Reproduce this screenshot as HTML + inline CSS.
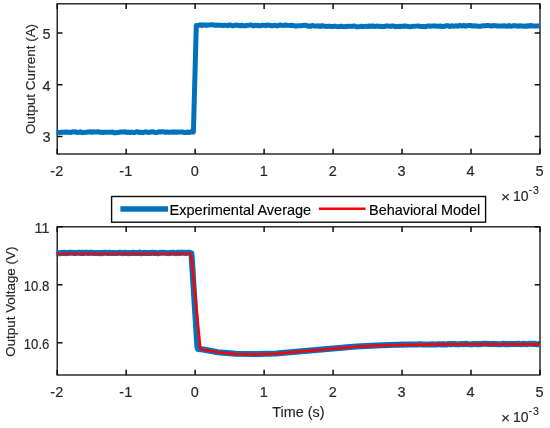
<!DOCTYPE html>
<html><head><meta charset="utf-8"><style>
html,body{margin:0;padding:0;background:#fff;width:550px;height:428px;overflow:hidden}
svg{display:block;filter:blur(0.35px)}
</style></head><body>
<svg width="550" height="428" viewBox="0 0 550 428">
<rect width="550" height="428" fill="#fff"/>
<rect x="57.2" y="3.8" width="482.8" height="150.2" fill="none" stroke="#0d0d0d" stroke-width="1.3"/>
<line x1="57.20" y1="3.8" x2="57.20" y2="9.1" stroke="#0d0d0d" stroke-width="1.5"/>
<line x1="57.20" y1="154.0" x2="57.20" y2="148.7" stroke="#0d0d0d" stroke-width="1.5"/>
<line x1="126.17" y1="3.8" x2="126.17" y2="9.1" stroke="#0d0d0d" stroke-width="1.5"/>
<line x1="126.17" y1="154.0" x2="126.17" y2="148.7" stroke="#0d0d0d" stroke-width="1.5"/>
<line x1="195.14" y1="3.8" x2="195.14" y2="9.1" stroke="#0d0d0d" stroke-width="1.5"/>
<line x1="195.14" y1="154.0" x2="195.14" y2="148.7" stroke="#0d0d0d" stroke-width="1.5"/>
<line x1="264.11" y1="3.8" x2="264.11" y2="9.1" stroke="#0d0d0d" stroke-width="1.5"/>
<line x1="264.11" y1="154.0" x2="264.11" y2="148.7" stroke="#0d0d0d" stroke-width="1.5"/>
<line x1="333.09" y1="3.8" x2="333.09" y2="9.1" stroke="#0d0d0d" stroke-width="1.5"/>
<line x1="333.09" y1="154.0" x2="333.09" y2="148.7" stroke="#0d0d0d" stroke-width="1.5"/>
<line x1="402.06" y1="3.8" x2="402.06" y2="9.1" stroke="#0d0d0d" stroke-width="1.5"/>
<line x1="402.06" y1="154.0" x2="402.06" y2="148.7" stroke="#0d0d0d" stroke-width="1.5"/>
<line x1="471.03" y1="3.8" x2="471.03" y2="9.1" stroke="#0d0d0d" stroke-width="1.5"/>
<line x1="471.03" y1="154.0" x2="471.03" y2="148.7" stroke="#0d0d0d" stroke-width="1.5"/>
<line x1="540.00" y1="3.8" x2="540.00" y2="9.1" stroke="#0d0d0d" stroke-width="1.5"/>
<line x1="540.00" y1="154.0" x2="540.00" y2="148.7" stroke="#0d0d0d" stroke-width="1.5"/>
<rect x="57.2" y="226.8" width="482.8" height="148.2" fill="none" stroke="#0d0d0d" stroke-width="1.3"/>
<line x1="57.20" y1="226.8" x2="57.20" y2="232.10000000000002" stroke="#0d0d0d" stroke-width="1.5"/>
<line x1="57.20" y1="375.0" x2="57.20" y2="369.7" stroke="#0d0d0d" stroke-width="1.5"/>
<line x1="126.17" y1="226.8" x2="126.17" y2="232.10000000000002" stroke="#0d0d0d" stroke-width="1.5"/>
<line x1="126.17" y1="375.0" x2="126.17" y2="369.7" stroke="#0d0d0d" stroke-width="1.5"/>
<line x1="195.14" y1="226.8" x2="195.14" y2="232.10000000000002" stroke="#0d0d0d" stroke-width="1.5"/>
<line x1="195.14" y1="375.0" x2="195.14" y2="369.7" stroke="#0d0d0d" stroke-width="1.5"/>
<line x1="264.11" y1="226.8" x2="264.11" y2="232.10000000000002" stroke="#0d0d0d" stroke-width="1.5"/>
<line x1="264.11" y1="375.0" x2="264.11" y2="369.7" stroke="#0d0d0d" stroke-width="1.5"/>
<line x1="333.09" y1="226.8" x2="333.09" y2="232.10000000000002" stroke="#0d0d0d" stroke-width="1.5"/>
<line x1="333.09" y1="375.0" x2="333.09" y2="369.7" stroke="#0d0d0d" stroke-width="1.5"/>
<line x1="402.06" y1="226.8" x2="402.06" y2="232.10000000000002" stroke="#0d0d0d" stroke-width="1.5"/>
<line x1="402.06" y1="375.0" x2="402.06" y2="369.7" stroke="#0d0d0d" stroke-width="1.5"/>
<line x1="471.03" y1="226.8" x2="471.03" y2="232.10000000000002" stroke="#0d0d0d" stroke-width="1.5"/>
<line x1="471.03" y1="375.0" x2="471.03" y2="369.7" stroke="#0d0d0d" stroke-width="1.5"/>
<line x1="540.00" y1="226.8" x2="540.00" y2="232.10000000000002" stroke="#0d0d0d" stroke-width="1.5"/>
<line x1="540.00" y1="375.0" x2="540.00" y2="369.7" stroke="#0d0d0d" stroke-width="1.5"/>
<line x1="57.2" y1="33.00" x2="62.5" y2="33.00" stroke="#0d0d0d" stroke-width="1.5"/>
<line x1="540.0" y1="33.00" x2="534.7" y2="33.00" stroke="#0d0d0d" stroke-width="1.5"/>
<line x1="57.2" y1="84.75" x2="62.5" y2="84.75" stroke="#0d0d0d" stroke-width="1.5"/>
<line x1="540.0" y1="84.75" x2="534.7" y2="84.75" stroke="#0d0d0d" stroke-width="1.5"/>
<line x1="57.2" y1="136.50" x2="62.5" y2="136.50" stroke="#0d0d0d" stroke-width="1.5"/>
<line x1="540.0" y1="136.50" x2="534.7" y2="136.50" stroke="#0d0d0d" stroke-width="1.5"/>
<line x1="57.2" y1="226.80" x2="62.5" y2="226.80" stroke="#0d0d0d" stroke-width="1.5"/>
<line x1="540.0" y1="226.80" x2="534.7" y2="226.80" stroke="#0d0d0d" stroke-width="1.5"/>
<line x1="57.2" y1="284.80" x2="62.5" y2="284.80" stroke="#0d0d0d" stroke-width="1.5"/>
<line x1="540.0" y1="284.80" x2="534.7" y2="284.80" stroke="#0d0d0d" stroke-width="1.5"/>
<line x1="57.2" y1="342.80" x2="62.5" y2="342.80" stroke="#0d0d0d" stroke-width="1.5"/>
<line x1="540.0" y1="342.80" x2="534.7" y2="342.80" stroke="#0d0d0d" stroke-width="1.5"/>
<path d="M56.40,132.16 L58.00,132.25 L59.60,132.58 L61.20,132.17 L62.80,132.21 L64.40,132.28 L66.00,131.92 L67.60,132.21 L69.20,132.32 L70.80,132.46 L72.40,131.83 L74.00,132.02 L75.60,131.83 L77.20,132.48 L78.80,132.37 L80.40,131.79 L82.00,132.63 L83.60,132.62 L85.20,132.34 L86.80,132.30 L88.40,131.89 L90.00,131.76 L91.60,132.23 L93.20,131.80 L94.80,131.92 L96.40,131.97 L98.00,131.78 L99.60,132.17 L101.20,132.15 L102.80,132.51 L104.40,132.22 L106.00,132.33 L107.60,132.20 L109.20,132.35 L110.80,132.16 L112.40,132.00 L114.00,132.65 L115.60,132.65 L117.20,132.51 L118.80,132.39 L120.40,132.03 L122.00,131.96 L123.60,132.01 L125.20,131.81 L126.80,132.44 L128.40,132.11 L130.00,132.51 L131.60,132.10 L133.20,132.61 L134.80,132.51 L136.40,131.75 L138.00,131.94 L139.60,132.57 L141.20,132.17 L142.80,132.63 L144.40,132.11 L146.00,131.82 L147.60,132.32 L149.20,132.45 L150.80,131.99 L152.40,131.83 L154.00,132.05 L155.60,132.62 L157.20,132.43 L158.80,131.86 L160.40,131.97 L162.00,131.84 L163.60,131.80 L165.20,132.47 L166.80,131.91 L168.40,132.25 L170.00,132.15 L171.60,131.92 L173.20,132.41 L174.80,131.87 L176.40,132.33 L178.00,131.85 L179.60,132.13 L181.20,131.94 L182.80,131.99 L184.40,132.62 L186.00,132.47 L187.60,132.02 L189.20,132.55 L190.80,131.94 L192.40,132.10 L193.40,132.00 L196.30,25.40 L197.00,25.43 L198.60,25.25 L200.20,24.77 L201.80,25.58 L203.40,24.89 L205.00,24.94 L206.60,25.42 L208.20,25.03 L209.80,25.01 L211.40,24.82 L213.00,24.85 L214.60,25.30 L216.20,25.01 L217.80,25.34 L219.40,25.14 L221.00,25.23 L222.60,25.69 L224.20,25.28 L225.80,25.37 L227.40,25.64 L229.00,25.04 L230.60,25.02 L232.20,25.71 L233.80,25.64 L235.40,25.14 L237.00,25.10 L238.60,25.60 L240.20,25.80 L241.80,25.14 L243.40,25.83 L245.00,25.78 L246.60,25.54 L248.20,25.38 L249.80,25.11 L251.40,25.06 L253.00,25.90 L254.60,25.26 L256.20,25.68 L257.80,25.28 L259.40,25.79 L261.00,25.59 L262.60,25.31 L264.20,25.21 L265.80,25.70 L267.40,25.11 L269.00,25.26 L270.60,25.55 L272.20,25.82 L273.80,25.60 L275.40,25.30 L277.00,25.88 L278.60,25.23 L280.20,25.06 L281.80,25.29 L283.40,25.45 L285.00,25.10 L286.60,25.21 L288.20,25.38 L289.80,25.56 L291.40,25.19 L293.00,25.42 L294.60,25.93 L296.20,26.03 L297.80,25.77 L299.40,25.82 L301.00,25.75 L302.60,25.38 L304.20,25.31 L305.80,25.32 L307.40,26.15 L309.00,25.98 L310.60,26.25 L312.20,25.42 L313.80,26.00 L315.40,25.89 L317.00,26.14 L318.60,25.79 L320.20,26.43 L321.80,25.63 L323.40,26.08 L325.00,26.27 L326.60,26.45 L328.20,26.32 L329.80,26.32 L331.40,26.43 L333.00,26.56 L334.60,26.08 L336.20,26.41 L337.80,26.63 L339.40,26.62 L341.00,26.23 L342.60,26.56 L344.20,26.63 L345.80,26.37 L347.40,26.41 L349.00,26.19 L350.60,26.37 L352.20,26.40 L353.80,25.92 L355.40,26.43 L357.00,26.74 L358.60,26.64 L360.20,26.51 L361.80,26.20 L363.40,26.51 L365.00,26.37 L366.60,26.25 L368.20,26.60 L369.80,25.93 L371.40,26.53 L373.00,25.88 L374.60,26.39 L376.20,26.28 L377.80,26.06 L379.40,26.48 L381.00,26.30 L382.60,26.40 L384.20,26.68 L385.80,26.08 L387.40,25.86 L389.00,26.12 L390.60,26.46 L392.20,26.03 L393.80,26.00 L395.40,26.67 L397.00,26.44 L398.60,26.25 L400.20,26.65 L401.80,26.14 L403.40,26.45 L405.00,26.03 L406.60,26.24 L408.20,26.58 L409.80,26.67 L411.40,26.64 L413.00,26.20 L414.60,26.37 L416.20,26.13 L417.80,25.97 L419.40,26.30 L421.00,26.60 L422.60,26.59 L424.20,26.46 L425.80,26.66 L427.40,26.04 L429.00,25.93 L430.60,26.17 L432.20,26.00 L433.80,25.93 L435.40,26.10 L437.00,26.28 L438.60,26.15 L440.20,25.97 L441.80,26.43 L443.40,26.55 L445.00,26.06 L446.60,25.70 L448.20,25.65 L449.80,26.40 L451.40,25.64 L453.00,26.22 L454.60,26.09 L456.20,25.84 L457.80,26.26 L459.40,25.55 L461.00,25.64 L462.60,25.92 L464.20,25.52 L465.80,26.23 L467.40,25.68 L469.00,25.58 L470.60,25.49 L472.20,26.01 L473.80,25.85 L475.40,26.01 L477.00,26.03 L478.60,26.16 L480.20,26.30 L481.80,26.05 L483.40,25.61 L485.00,25.86 L486.60,25.59 L488.20,25.43 L489.80,25.85 L491.40,26.06 L493.00,25.58 L494.60,25.66 L496.20,25.72 L497.80,26.04 L499.40,25.88 L501.00,25.96 L502.60,26.08 L504.20,25.76 L505.80,26.11 L507.40,26.21 L509.00,25.47 L510.60,26.23 L512.20,26.04 L513.80,25.50 L515.40,25.79 L517.00,25.95 L518.60,26.20 L520.20,25.72 L521.80,25.89 L523.40,26.17 L525.00,26.09 L526.60,26.22 L528.20,25.78 L529.80,25.95 L531.40,25.55 L533.00,26.01 L534.60,26.09 L536.20,25.93 L537.80,26.00 L539.40,25.54" fill="none" stroke="#0072BD" stroke-width="5.0" stroke-linejoin="round"/>
<path d="M56.40,253.14 L58.00,253.19 L59.60,253.19 L61.20,252.92 L62.80,253.07 L64.40,252.79 L66.00,253.15 L67.60,253.11 L69.20,252.81 L70.80,252.65 L72.40,252.86 L74.00,252.93 L75.60,253.06 L77.20,252.89 L78.80,252.62 L80.40,253.09 L82.00,252.64 L83.60,253.08 L85.20,252.70 L86.80,252.80 L88.40,253.07 L90.00,252.68 L91.60,252.69 L93.20,252.91 L94.80,253.03 L96.40,253.10 L98.00,253.01 L99.60,253.17 L101.20,252.90 L102.80,253.17 L104.40,252.65 L106.00,252.73 L107.60,252.92 L109.20,252.77 L110.80,253.04 L112.40,252.98 L114.00,252.91 L115.60,253.11 L117.20,252.94 L118.80,252.79 L120.40,252.83 L122.00,253.11 L123.60,253.14 L125.20,252.72 L126.80,253.11 L128.40,253.18 L130.00,252.91 L131.60,252.94 L133.20,252.72 L134.80,252.92 L136.40,252.90 L138.00,252.96 L139.60,252.62 L141.20,253.18 L142.80,252.91 L144.40,252.84 L146.00,253.08 L147.60,252.94 L149.20,252.89 L150.80,253.01 L152.40,252.64 L154.00,252.92 L155.60,252.85 L157.20,253.17 L158.80,253.15 L160.40,252.76 L162.00,252.88 L163.60,252.68 L165.20,252.86 L166.80,253.09 L168.40,253.14 L170.00,252.89 L171.60,252.79 L173.20,252.71 L174.80,252.97 L176.40,253.16 L178.00,252.68 L179.60,253.07 L181.20,252.61 L182.80,252.72 L184.40,252.74 L186.00,253.01 L187.60,252.79 L189.20,252.81 L191.20,253.20 L191.60,256.00 L197.40,346.80 L198.00,349.00 L203.30,349.50 L217.80,352.20 L236.00,353.80 L256.00,354.00 L276.00,353.40 L296.00,351.70 L316.00,350.00 L336.00,348.20 L356.00,346.50 L376.00,345.50 L396.00,344.80 L400.00,344.81 L401.60,344.48 L403.20,344.83 L404.80,344.44 L406.40,344.65 L408.00,344.47 L409.60,344.41 L411.20,344.59 L412.80,344.51 L414.40,344.45 L416.00,344.45 L417.60,344.50 L419.20,344.26 L420.80,344.27 L422.40,344.51 L424.00,344.50 L425.60,344.42 L427.20,344.60 L428.80,344.44 L430.40,344.57 L432.00,344.18 L433.60,344.47 L435.20,344.49 L436.80,344.54 L438.40,344.18 L440.00,344.17 L441.60,344.53 L443.20,344.09 L444.80,344.56 L446.40,344.48 L448.00,344.02 L449.60,344.08 L451.20,344.36 L452.80,344.07 L454.40,343.97 L456.00,344.40 L457.60,344.14 L459.20,344.36 L460.80,343.95 L462.40,344.11 L464.00,344.27 L465.60,343.86 L467.20,343.96 L468.80,344.25 L470.40,344.37 L472.00,344.40 L473.60,343.88 L475.20,344.11 L476.80,344.25 L478.40,344.10 L480.00,344.21 L481.60,343.90 L483.20,343.83 L484.80,343.85 L486.40,343.81 L488.00,344.11 L489.60,344.09 L491.20,344.12 L492.80,343.86 L494.40,343.88 L496.00,343.89 L497.60,344.27 L499.20,344.36 L500.80,344.32 L502.40,343.82 L504.00,343.79 L505.60,344.32 L507.20,344.03 L508.80,344.21 L510.40,343.94 L512.00,344.02 L513.60,344.05 L515.20,344.00 L516.80,344.10 L518.40,343.74 L520.00,344.15 L521.60,344.24 L523.20,343.84 L524.80,344.00 L526.40,344.16 L528.00,343.96 L529.60,343.83 L531.20,343.81 L532.80,344.02 L534.40,343.72 L536.00,344.24 L537.60,344.18 L539.20,344.12" fill="none" stroke="#0072BD" stroke-width="6.0" stroke-linejoin="round"/>
<path d="M56.40,253.80 L189.00,253.80 L190.60,254.30 L191.30,256.50 L200.20,347.00 L200.90,349.20 L203.30,349.80 L217.80,352.20 L236.00,354.10 L256.00,354.50 L276.00,353.60 L296.00,351.90 L316.00,350.20 L336.00,348.40 L356.00,346.70 L376.00,345.60 L396.00,345.00 L416.00,344.90 L436.00,344.40 L476.00,344.20 L540.00,344.40" fill="none" stroke="#FF0000" stroke-width="2.6" stroke-linejoin="round"/>
<text x="56.80" y="175.6" font-size="14.5" font-family="Liberation Sans, Arial, sans-serif" fill="#262626" stroke="#262626" stroke-width="0.15" text-anchor="middle">-2</text>
<text x="125.77" y="175.6" font-size="14.5" font-family="Liberation Sans, Arial, sans-serif" fill="#262626" stroke="#262626" stroke-width="0.15" text-anchor="middle">-1</text>
<text x="194.74" y="175.6" font-size="14.5" font-family="Liberation Sans, Arial, sans-serif" fill="#262626" stroke="#262626" stroke-width="0.15" text-anchor="middle">0</text>
<text x="263.71" y="175.6" font-size="14.5" font-family="Liberation Sans, Arial, sans-serif" fill="#262626" stroke="#262626" stroke-width="0.15" text-anchor="middle">1</text>
<text x="332.69" y="175.6" font-size="14.5" font-family="Liberation Sans, Arial, sans-serif" fill="#262626" stroke="#262626" stroke-width="0.15" text-anchor="middle">2</text>
<text x="401.66" y="175.6" font-size="14.5" font-family="Liberation Sans, Arial, sans-serif" fill="#262626" stroke="#262626" stroke-width="0.15" text-anchor="middle">3</text>
<text x="470.63" y="175.6" font-size="14.5" font-family="Liberation Sans, Arial, sans-serif" fill="#262626" stroke="#262626" stroke-width="0.15" text-anchor="middle">4</text>
<text x="539.60" y="175.6" font-size="14.5" font-family="Liberation Sans, Arial, sans-serif" fill="#262626" stroke="#262626" stroke-width="0.15" text-anchor="middle">5</text>
<text x="56.80" y="396.7" font-size="14.5" font-family="Liberation Sans, Arial, sans-serif" fill="#262626" stroke="#262626" stroke-width="0.15" text-anchor="middle">-2</text>
<text x="125.77" y="396.7" font-size="14.5" font-family="Liberation Sans, Arial, sans-serif" fill="#262626" stroke="#262626" stroke-width="0.15" text-anchor="middle">-1</text>
<text x="194.74" y="396.7" font-size="14.5" font-family="Liberation Sans, Arial, sans-serif" fill="#262626" stroke="#262626" stroke-width="0.15" text-anchor="middle">0</text>
<text x="263.71" y="396.7" font-size="14.5" font-family="Liberation Sans, Arial, sans-serif" fill="#262626" stroke="#262626" stroke-width="0.15" text-anchor="middle">1</text>
<text x="332.69" y="396.7" font-size="14.5" font-family="Liberation Sans, Arial, sans-serif" fill="#262626" stroke="#262626" stroke-width="0.15" text-anchor="middle">2</text>
<text x="401.66" y="396.7" font-size="14.5" font-family="Liberation Sans, Arial, sans-serif" fill="#262626" stroke="#262626" stroke-width="0.15" text-anchor="middle">3</text>
<text x="470.63" y="396.7" font-size="14.5" font-family="Liberation Sans, Arial, sans-serif" fill="#262626" stroke="#262626" stroke-width="0.15" text-anchor="middle">4</text>
<text x="539.60" y="396.7" font-size="14.5" font-family="Liberation Sans, Arial, sans-serif" fill="#262626" stroke="#262626" stroke-width="0.15" text-anchor="middle">5</text>
<text x="50.6" y="38.90" font-size="14.5" font-family="Liberation Sans, Arial, sans-serif" fill="#262626" stroke="#262626" stroke-width="0.15" text-anchor="end">5</text>
<text x="50.6" y="90.65" font-size="14.5" font-family="Liberation Sans, Arial, sans-serif" fill="#262626" stroke="#262626" stroke-width="0.15" text-anchor="end">4</text>
<text x="50.6" y="142.40" font-size="14.5" font-family="Liberation Sans, Arial, sans-serif" fill="#262626" stroke="#262626" stroke-width="0.15" text-anchor="end">3</text>
<text x="49.4" y="233.10" font-size="14.2" font-family="Liberation Sans, Arial, sans-serif" fill="#262626" stroke="#262626" stroke-width="0.15" text-anchor="end" textLength="14.9" lengthAdjust="spacingAndGlyphs">11</text>
<text x="49.4" y="291.10" font-size="14.2" font-family="Liberation Sans, Arial, sans-serif" fill="#262626" stroke="#262626" stroke-width="0.15" text-anchor="end" textLength="25.6" lengthAdjust="spacingAndGlyphs">10.8</text>
<text x="49.4" y="349.10" font-size="14.2" font-family="Liberation Sans, Arial, sans-serif" fill="#262626" stroke="#262626" stroke-width="0.15" text-anchor="end" textLength="25.6" lengthAdjust="spacingAndGlyphs">10.6</text>
<text x="500.9" y="202.0" font-size="15.5" font-family="Liberation Sans, Arial, sans-serif" fill="#262626" stroke="#262626" stroke-width="0.15">×</text>
<text x="513.0" y="200.9" font-size="14" font-family="Liberation Sans, Arial, sans-serif" fill="#262626" stroke="#262626" stroke-width="0.15">10</text>
<text x="528.8" y="193.1" font-size="10" font-family="Liberation Sans, Arial, sans-serif" fill="#262626" stroke="#262626" stroke-width="0.15">-</text>
<text x="532.9" y="193.6" font-size="10.5" font-family="Liberation Sans, Arial, sans-serif" fill="#262626" stroke="#262626" stroke-width="0.15">3</text>
<text x="500.9" y="423.3" font-size="15.5" font-family="Liberation Sans, Arial, sans-serif" fill="#262626" stroke="#262626" stroke-width="0.15">×</text>
<text x="513.0" y="422.2" font-size="14" font-family="Liberation Sans, Arial, sans-serif" fill="#262626" stroke="#262626" stroke-width="0.15">10</text>
<text x="528.8" y="414.4" font-size="10" font-family="Liberation Sans, Arial, sans-serif" fill="#262626" stroke="#262626" stroke-width="0.15">-</text>
<text x="532.9" y="414.9" font-size="10.5" font-family="Liberation Sans, Arial, sans-serif" fill="#262626" stroke="#262626" stroke-width="0.15">3</text>
<text transform="translate(34.6,79.05) rotate(-90)" font-size="13.4" font-family="Liberation Sans, Arial, sans-serif" fill="#262626" stroke="#262626" stroke-width="0.15" text-anchor="middle">Output Current (A)</text>
<text transform="translate(14.5,301.7) rotate(-90)" font-size="13.4" font-family="Liberation Sans, Arial, sans-serif" fill="#262626" stroke="#262626" stroke-width="0.15" text-anchor="middle">Output Voltage (V)</text>
<text x="298.4" y="416.9" font-size="14.4" font-family="Liberation Sans, Arial, sans-serif" fill="#262626" stroke="#262626" stroke-width="0.15" text-anchor="middle">Time (s)</text>
<rect x="111.6" y="196.5" width="374" height="25.7" fill="#fff" stroke="#0d0d0d" stroke-width="1.4"/>
<line x1="120.4" y1="209" x2="168" y2="209" stroke="#0072BD" stroke-width="5.6"/>
<text x="169.6" y="215.0" font-size="14.5" font-family="Liberation Sans, Arial, sans-serif" fill="#000" stroke="#000" stroke-width="0.15">Experimental Average</text>
<line x1="318.9" y1="208.8" x2="365.5" y2="208.8" stroke="#FF0000" stroke-width="2.4"/>
<text x="369.1" y="215.0" font-size="14.4" font-family="Liberation Sans, Arial, sans-serif" fill="#000" stroke="#000" stroke-width="0.15">Behavioral Model</text>
</svg>
</body></html>
